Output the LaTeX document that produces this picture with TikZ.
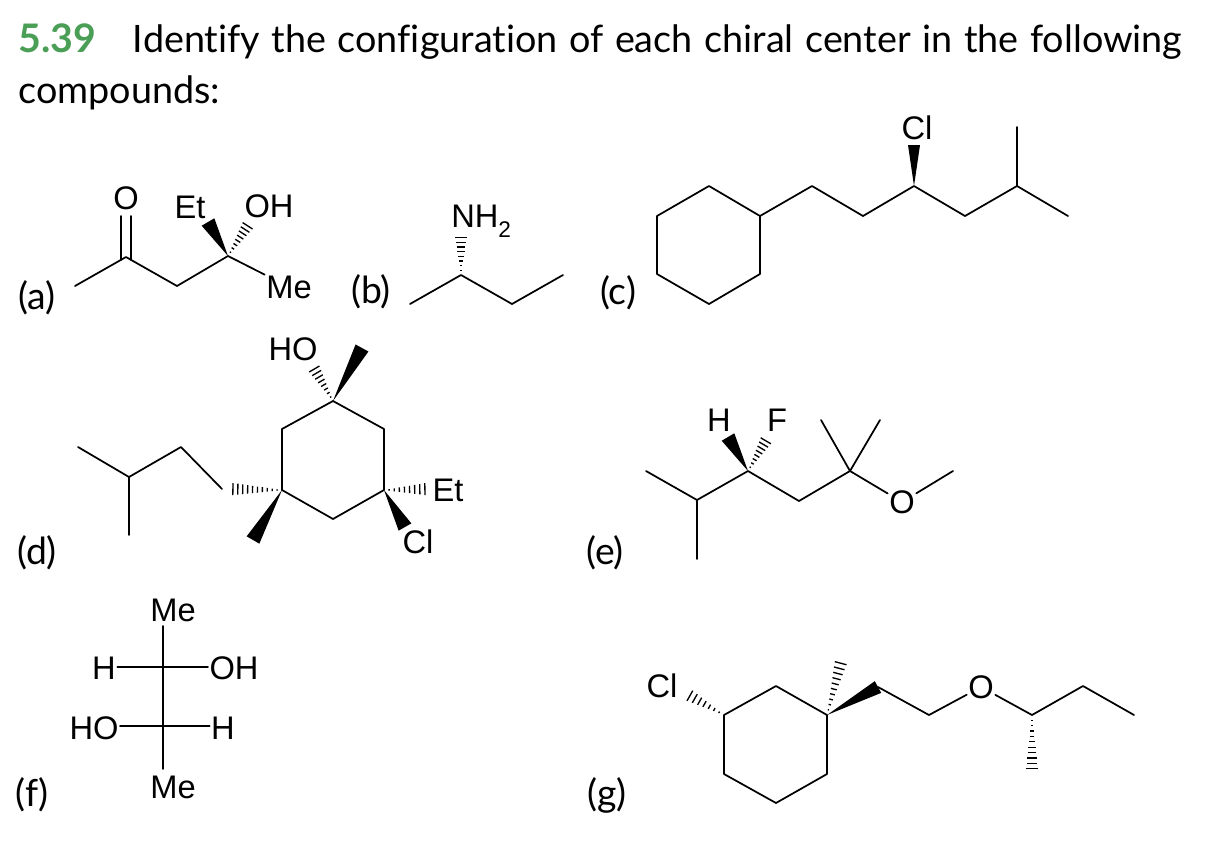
\documentclass[tikz,border=0pt]{standalone}
\usepackage{fontspec}
\setmainfont{Lato}[Ligatures=NoCommon]
\newfontfamily\chemfont{Liberation Sans}
\usetikzlibrary{calc}
\definecolor{probgreen}{RGB}{74,158,86}
\tikzset{
  atom/.style={font=\chemfont\fontsize{24.5}{26}\selectfont,inner sep=1pt,text=black},
  caselabel/.style={font=\fontsize{28}{30}\selectfont,inner sep=0pt},
  titletext/.style={font=\fontsize{28.3}{32}\selectfont,inner sep=0pt,anchor=base west},
  bond/.style={line width=1.3pt,line cap=round,line join=round},
  hashline/.style={line width=1pt}
}
\newcommand{\wedgebond}[3]{\fill ($(#2)!#3!90:(#1)$) -- (#1) -- ($(#2)!#3!-90:(#1)$) -- cycle;}
\newcommand{\hashbond}[4]{%
  \foreach \hashi in {1,...,#4}{%
    \pgfmathsetmacro\hashfrac{\hashi/#4}%
    \pgfmathsetmacro\hashhalf{#3*\hashfrac}%
    \draw[hashline] ($(#1)!\hashfrac!(#2)!\hashhalf pt!90:(#2)$) -- ($(#1)!\hashfrac!(#2)!\hashhalf pt!-90:(#2)$);
  }}
\begin{document}
\begin{tikzpicture}[x=0.75pt,y=-0.75pt]
\useasboundingbox (0,0) rectangle (1230,864);
% title
\node[titletext] (title1) at (18,52) {\makebox[873pt][s]{\textbf{\textcolor{probgreen}{\fontsize{29.5}{32}\selectfont 5.39}}\hspace*{19pt} Identify the configuration of each chiral center in the following}};
\node[titletext] (title2) at (18,103) {compounds:};
% case labels
\node[caselabel] (la) at (37,298) {(a)};
\node[caselabel] (lb) at (371,292) {(b)};
\node[caselabel] (lc) at (618,293) {(c)};
\node[caselabel] (ld) at (37,553) {(d)};
\node[caselabel] (le) at (605,553) {(e)};
\node[caselabel] (lf) at (32,795) {(f)};
\node[caselabel] (lg) at (607,795) {(g)};

% (a)
\coordinate (a1) at (75,286);
\coordinate (a2) at (126,257);
\coordinate (a3) at (177,286);
\coordinate (a4) at (228,256);
\coordinate (aEtEnd) at (208,222);
\coordinate (aOHEnd) at (250,222);
\node[atom] (aO) at (126,198) {O};
\node[atom] (aEt) at (190,207) {Et};
\node[atom] (aOH) at (269,206) {OH};
\node[atom] (aMe) at (289,287) {Me};
\draw[bond] (a1) -- (a2) -- (a3) -- (a4) -- (aMe);
\draw[bond] ($(a2)+(-5,3)$) -- ($(aO)+(-5,18)$);
\draw[bond] ($(a2)+(5,3)$) -- ($(aO)+(5,18)$);
\wedgebond{a4}{aEtEnd}{5.5pt}
\hashbond{a4}{aOHEnd}{5}{9}

% (b)
\coordinate (b1) at (410,304);
\coordinate (b2) at (461,275);
\coordinate (b3) at (512,304);
\coordinate (b4) at (563,275);
\coordinate (bNEnd) at (461,233);
\node[atom,anchor=base west,inner sep=0pt] (bN) at (451,227) {NH\raisebox{-7.5pt}{\fontsize{17}{19}\selectfont 2}};
\draw[bond] (b1) -- (b2) -- (b3) -- (b4);
\hashbond{b2}{bNEnd}{5}{9}

% (c)
\coordinate (c1) at (760,216);
\coordinate (c2) at (709,186);
\coordinate (c3) at (657,216);
\coordinate (c4) at (657,274);
\coordinate (c5) at (709,304);
\coordinate (c6) at (760,274);
\coordinate (c7) at (812,186);
\coordinate (c8) at (863,216);
\coordinate (c9) at (914,186);
\coordinate (c10) at (965,216);
\coordinate (c11) at (1017,186);
\coordinate (c12) at (1017,127);
\coordinate (c13) at (1068,216);
\coordinate (cClEnd) at (914,145);
\node[atom] (cCl) at (917,128) {Cl};
\draw[bond] (c1) -- (c2) -- (c3) -- (c4) -- (c5) -- (c6) -- cycle;
\draw[bond] (c1) -- (c7) -- (c8) -- (c9) -- (c10) -- (c11) -- (c12);
\draw[bond] (c11) -- (c13);
\wedgebond{c9}{cClEnd}{4.5pt}

% (d)
\coordinate (d1) at (78,447);
\coordinate (d2) at (129,477);
\coordinate (d3) at (129,535);
\coordinate (d4) at (181,447);
\coordinate (d5) at (222,489);
\coordinate (r1) at (333,401);
\coordinate (r2) at (384,429);
\coordinate (r3) at (384,490);
\coordinate (r4) at (333,519);
\coordinate (r5) at (282,490);
\coordinate (r6) at (282,429);
\coordinate (dHOEnd) at (312,365);
\coordinate (dMe1) at (362,348);
\coordinate (dMe2) at (253,540);
\coordinate (dClEnd) at (405,527);
\coordinate (dEtEnd) at (430,489);
\coordinate (dChainEnd) at (228,489);
\node[atom] (dHO) at (293,349) {HO};
\node[atom] (dEt) at (448,490) {Et};
\node[atom] (dCl) at (418,542) {Cl};
\draw[bond] (d1) -- (d2) -- (d3);
\draw[bond] (d2) -- (d4) -- (d5);
\draw[bond] (r1) -- (r2) -- (r3) -- (r4) -- (r5) -- (r6) -- cycle;
\hashbond{r1}{dHOEnd}{5}{9}
\wedgebond{r1}{dMe1}{5.5pt}
\wedgebond{r5}{dMe2}{5.5pt}
\wedgebond{r3}{dClEnd}{5.5pt}
\hashbond{r3}{dEtEnd}{5}{9}
\hashbond{r5}{dChainEnd}{5}{11}

% (e)
\coordinate (e1) at (646,471);
\coordinate (e2) at (697,500);
\coordinate (e3) at (697,559);
\coordinate (e4) at (748,471);
\coordinate (e5) at (799,501);
\coordinate (e6) at (850,471);
\coordinate (e7) at (821,420);
\coordinate (e8) at (880,420);
\coordinate (e9) at (953,471);
\coordinate (eHEnd) at (728,437);
\coordinate (eFEnd) at (768,437);
\node[atom] (eO) at (902,502) {O};
\node[atom] (eH) at (719,420) {H};
\node[atom] (eF) at (777,420) {F};
\draw[bond] (e1) -- (e2) -- (e3);
\draw[bond] (e2) -- (e4) -- (e5) -- (e6) -- (e7);
\draw[bond] (e6) -- (e8);
\draw[bond] (e6) -- (eO) -- (e9);
\wedgebond{e4}{eHEnd}{5.5pt}
\hashbond{e4}{eFEnd}{5}{9}

% (f)
\coordinate (fT) at (163,626);
\coordinate (fU) at (163,667);
\coordinate (fL) at (163,726);
\coordinate (fB) at (163,769);
\node[atom] (fMeT) at (173,610) {Me};
\node[atom] (fH1) at (104,668) {H};
\node[atom] (fOH) at (234,668) {OH};
\node[atom] (fHO) at (94,728) {HO};
\node[atom] (fH2) at (223,728) {H};
\node[atom] (fMeB) at (173,787) {Me};
\draw[bond] (fT) -- (fU) -- (fL) -- (fB);
\draw[bond] (fU -| fH1.east) -- (fU) -- (fU -| fOH.west);
\draw[bond] (fL -| fHO.east) -- (fL) -- (fL -| fH2.west);

% (g)
\coordinate (g1) at (724,715);
\coordinate (g2) at (776,686);
\coordinate (g3) at (827,715);
\coordinate (g4) at (827,774);
\coordinate (g5) at (776,803);
\coordinate (g6) at (724,774);
\coordinate (g7) at (878,687);
\coordinate (g8) at (929,715);
\coordinate (g9) at (1032,715);
\coordinate (g10) at (1083,686);
\coordinate (g11) at (1134,715);
\coordinate (gMeUp) at (842,658);
\coordinate (gMeDown) at (1032,774);
\coordinate (gClEnd) at (685,693);
\node[atom] (gCl) at (662,686) {Cl};
\node[atom] (gO) at (981,687) {O};
\draw[bond] (g1) -- (g2) -- (g3) -- (g4) -- (g5) -- (g6) -- cycle;
\draw[bond] (g7) -- (g8) -- (gO) -- (g9) -- (g10) -- (g11);
\wedgebond{g3}{g7}{5pt}
\hashbond{g3}{gMeUp}{5}{11}
\hashbond{g1}{gClEnd}{5}{8}
\hashbond{g9}{gMeDown}{5}{11}
\end{tikzpicture}
\end{document}
